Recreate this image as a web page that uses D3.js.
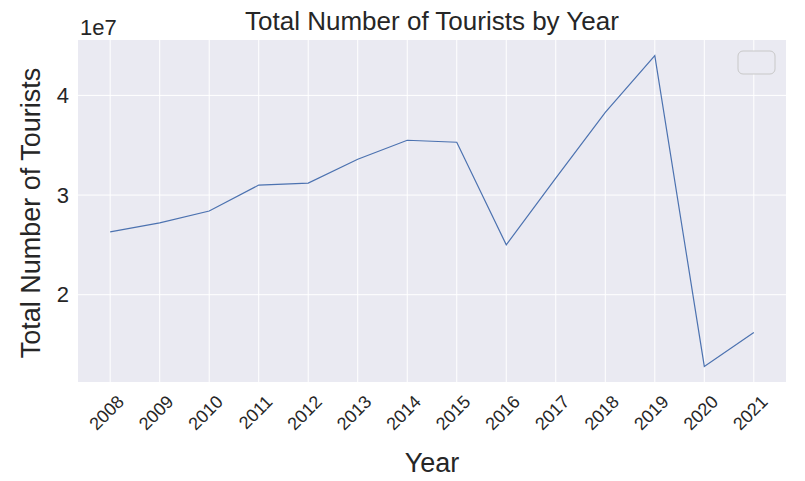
<!DOCTYPE html>
<html><head><meta charset="utf-8">
<script src="https://cdn.jsdelivr.net/npm/d3@7"></script>
<style>body{margin:0;background:#fff}text{font-family:Arial,"Liberation Sans",sans-serif;fill:#262626}</style>
</head><body><svg id="c" width="805" height="481"></svg>
<script>
const years = [2008,2009,2010,2011,2012,2013,2014,2015,2016,2017,2018,2019,2020,2021];
const tourists = [2.63e7,2.72e7,2.84e7,3.10e7,3.12e7,3.36e7,3.55e7,3.53e7,2.50e7,3.17e7,3.83e7,4.40e7,1.28e7,1.62e7];
const yTicks = [2e7,3e7,4e7];

const svg = d3.select("#c");
const L=78,R=786,T=40,B=382;
const x = d3.scaleLinear().domain([2007.35,2021.65]).range([L,R]);
const y = d3.scaleLinear().domain([1.124e7,4.556e7]).range([B,T]);
svg.append("rect").attr("x",L).attr("y",T).attr("width",R-L).attr("height",B-T).attr("fill","#eaeaf2");
svg.append("g").selectAll("line").data(years).join("line")
 .attr("x1",d=>x(d)).attr("x2",d=>x(d)).attr("y1",T).attr("y2",B).attr("stroke","#fff").attr("stroke-width",1);
svg.append("g").selectAll("line").data(yTicks).join("line")
 .attr("y1",d=>y(d)).attr("y2",d=>y(d)).attr("x1",L).attr("x2",R).attr("stroke","#fff").attr("stroke-width",1);
svg.append("path").datum(years.map((d,i)=>[d,tourists[i]]))
 .attr("d",d3.line().x(d=>x(d[0])).y(d=>y(d[1]))).attr("fill","none").attr("stroke","#4c72b0").attr("stroke-width",1.2);
svg.append("g").selectAll("text").data(yTicks).join("text")
 .attr("x",L-9).attr("y",d=>y(d)).attr("dy","0.35em").attr("text-anchor","end").attr("font-size",22).text(d=>d/1e7);
svg.append("g").selectAll("text").data(years).join("text")
 .attr("transform",d=>`translate(${x(d)+6},${B+12}) rotate(-45)`).attr("text-anchor","end").attr("dy","0.7em").attr("font-size",18).text(d=>d);
svg.append("text").attr("x",L+2).attr("y",35).attr("font-size",22).text("1e7");
svg.append("text").attr("x",(L+R)/2).attr("y",30).attr("text-anchor","middle").attr("font-size",26).text("Total Number of Tourists by Year");
svg.append("text").attr("x",(L+R)/2).attr("y",472).attr("text-anchor","middle").attr("font-size",27).text("Year");
svg.append("text").attr("transform",`translate(40,${(T+B)/2+2}) rotate(-90)`).attr("text-anchor","middle").attr("font-size",27).text("Total Number of Tourists");
svg.append("rect").attr("x",738).attr("y",51).attr("width",37).attr("height",23).attr("rx",5).attr("fill","#eaeaf2").attr("stroke","#c8c8c8");
</script></body></html>
